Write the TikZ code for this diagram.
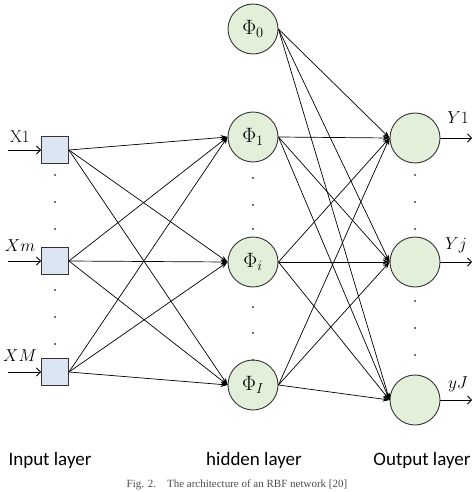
\documentclass[tikz,border=0pt]{standalone}
\usepackage{fontspec}
\newfontfamily\layerfont{Carlito}
\newfontfamily\capfont{Liberation Serif}
\usetikzlibrary{arrows.meta,positioning}
\definecolor{rbfIn}{RGB}{220,230,242}
\definecolor{rbfNode}{RGB}{226,239,217}
\begin{document}
\begin{tikzpicture}[x=1pt,y=-1pt,
      inp/.style={draw=black!80,line width=0.9pt,fill=rbfIn,minimum size=27pt,inner sep=0pt},
      rbf/.style={circle,draw=black!80,line width=0.9pt,fill=rbfNode,minimum size=50pt,
                  inner sep=0pt,font=\fontsize{21}{23}\selectfont},
      outn/.style={rbf},
      link/.style={-{Stealth[length=7pt,width=5pt]},line width=0.7pt},
      io/.style={-{Straight Barb[length=4pt,width=8pt]},line width=0.8pt},
      lbl/.style={font=\fontsize{17}{19}\selectfont,inner sep=0pt},
      layer/.style={font=\layerfont\fontsize{19}{22}\selectfont}]
    \useasboundingbox (0,0) rectangle (474,492);
    % input layer
    \node[inp] (x1) at (55,150) {};
    \node[inp] (xm) at (55,261) {};
    \node[inp] (xM) at (55,372) {};
    % hidden layer
    \node[rbf] (h0) at (253,29) {$\Phi_0$};
    \node[rbf] (h1) at (253,137) {$\Phi_1$};
    \node[rbf] (hi) at (253,262) {$\Phi_i$};
    \node[rbf] (hI) at (253,385) {$\Phi_I$};
    % output layer
    \node[outn] (y1) at (415,138) {};
    \node[outn] (yj) at (415,262) {};
    \node[outn] (yJ) at (415,400) {};
    % inputs and outputs
    \coordinate (in1) at (8,150);
    \coordinate (inm) at (8,261);
    \coordinate (inM) at (8,372);
    \coordinate (out1) at (472,138);
    \coordinate (outj) at (472,262);
    \coordinate (outJ) at (472,400);
    \draw[io] (in1) -- (x1.west);
    \draw[io] (inm) -- (xm.west);
    \draw[io] (inM) -- (xM.west);
    \draw[io] (y1.east) -- (out1);
    \draw[io] (yj.east) -- (outj);
    \draw[io] (yJ.east) -- (outJ);
    \node[lbl] (lx1) at (20,137) {X1};
    \node[lbl] (lxm) at (20,246) {$Xm$};
    \node[lbl] (lxM) at (20,356) {$XM$};
    \node[lbl] (ly1) at (458,118) {$Y1$};
    \node[lbl] (lyj) at (456,245) {$Yj$};
    \node[lbl] (lyJ) at (458,384) {$yJ$};
    % weights
    \foreach \a in {x1,xm,xM}
      \foreach \b in {h1,hi,hI}
        \draw[link] (\a.east) -- (\b.west);
    \foreach \a in {h0,h1,hi,hI}
      \foreach \b in {y1,yj,yJ}
        \draw[link] (\a.east) -- (\b.west);
    % dots
    \foreach \y in {175,202,229,290,317,344}
      \fill[black!75] (55,\y) circle (1.1pt);
    \foreach \y in {178,205,229,307,333,360}
      \fill[black!75] (253,\y) circle (1.1pt);
    \foreach \y in {175,202,229,301,328,355}
      \fill[black!75] (415,\y) circle (1.1pt);
    % layer names
    \node[layer] (inlbl) at (50,460) {Input layer};
    \node[layer] (hidlbl) at (254,460) {hidden layer};
    \node[layer] (outlbl) at (422,460) {Output layer};
    \node[font=\capfont\fontsize{11}{13}\selectfont,text=black!70,anchor=south,inner sep=0pt]
      (cap) at (237,490) {Fig. 2.\quad The architecture of an RBF network [20]};
  \end{tikzpicture}
\end{document}
